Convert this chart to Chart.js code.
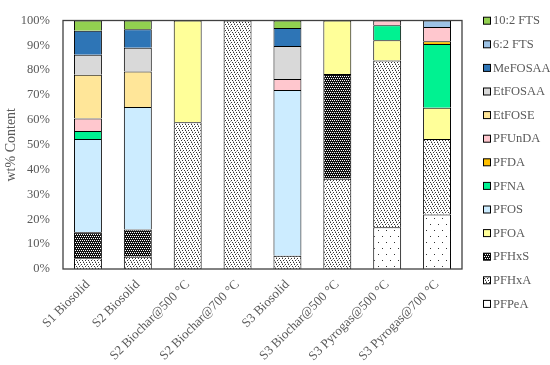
<!DOCTYPE html>
<html>
<head>
<meta charset="utf-8">
<script src="https://cdn.jsdelivr.net/npm/chart.js@4.4.1/dist/chart.umd.min.js"></script>
<style>
  html, body { margin: 0; padding: 0; background: #fff; }
  canvas { display: block; }
</style>
</head>
<body>
<canvas id="pfasChart" width="550" height="365"></canvas>
<script>
// Samples along the x axis
const samples = ['S1 Biosolid', 'S2 Biosolid', 'S2 Biochar@500 °C', 'S2 Biochar@700 °C',
    'S3 Biosolid', 'S3 Biochar@500 °C', 'S3 Pyrogas@500 °C', 'S3 Pyrogas@700 °C'];

// wt% of each compound per sample (bottom of the stack first)
const pfpea   = [0, 0, 0, 0, 0, 0, 16.8, 21.9];
const pfhxa   = [4.3, 4.9, 59.1, 100, 5.3, 36.3, 67.1, 30.4];
const pfhxs   = [10.5, 11.0, 0, 0, 0, 42.2, 0, 0];
const pfoa    = [0, 0, 40.9, 0, 0, 21.5, 8.2, 12.6];
const pfos    = [37.5, 49.3, 0, 0, 66.7, 0, 0, 0];
const pfna    = [3.2, 0, 0, 0, 0, 0, 6.0, 25.6];
const pfda    = [0, 0, 0, 0, 0, 0, 0, 1.2];
const pfunda  = [5.1, 0, 0, 0, 4.5, 0, 1.9, 5.7];
const etfose  = [17.6, 14.3, 0, 0, 0, 0, 0, 0];
const etfosaa = [8.0, 9.5, 0, 0, 13.2, 0, 0, 0];
const mefosaa = [9.7, 7.5, 0, 0, 7.3, 0, 0, 0];
const fts62   = [0, 0, 0, 0, 0, 0, 0, 2.6];
const fts102  = [4.1, 3.5, 0, 0, 3.0, 0, 0, 0];

const yTicks = [0, 10, 20, 30, 40, 50, 60, 70, 80, 90, 100];

const FONT = "'Liberation Serif', 'DejaVu Serif', serif";
const TEXT = '#595959';

// small tiled patterns for the hatched compounds
function makePattern(w, h, bg, dots) {
    const c = document.createElement('canvas');
    c.width = w; c.height = h;
    const g = c.getContext('2d');
    g.fillStyle = bg;
    g.fillRect(0, 0, w, h);
    dots.forEach(d => {
        g.fillStyle = d[4];
        g.fillRect(d[0], d[1], d[2], d[3]);
    });
    return g.createPattern(c, 'repeat');
}

const ctx = document.getElementById('pfasChart').getContext('2d');
const sparseDots = makePattern(8, 12, '#ffffff', [[2, 2, 1, 1, '#333'], [6, 8, 1, 1, '#333']]);
const denseDots  = makePattern(6, 6, '#ffffff', [
    [0, 0, 1, 1, '#333'], [3, 0, 1, 1, '#333'],
    [1, 2, 1, 1, '#333'], [4, 2, 1, 1, '#333'],
    [2, 4, 1, 1, '#333'], [5, 4, 1, 1, '#333'],
    [2, 1, 1, 1, '#aaa'], [5, 3, 1, 1, '#aaa'], [0, 5, 1, 1, '#aaa']]);
const darkCheck  = makePattern(4, 4, '#111111', [[0, 0, 1, 1, '#fff'], [2, 0, 1, 1, '#fff'],
    [1, 2, 1, 1, '#fff'], [3, 2, 1, 1, '#fff']]);

function series(label, data, fill) {
    return {
        label: label,
        data: data,
        backgroundColor: fill,
        borderColor: '#000000',
        borderWidth: 1
    };
}

const datasets = [
    series('PFPeA', pfpea, sparseDots),
    series('PFHxA', pfhxa, denseDots),
    series('PFHxS', pfhxs, darkCheck),
    series('PFOA', pfoa, '#FFFF99'),
    series('PFOS', pfos, '#CCECFF'),
    series('PFNA', pfna, '#00F291'),
    series('PFDA', pfda, '#FFC000'),
    series('PFUnDA', pfunda, '#FFC7CE'),
    series('EtFOSE', etfose, '#FFE699'),
    series('EtFOSAA', etfosaa, '#D9D9D9'),
    series('MeFOSAA', mefosaa, '#2E75B6'),
    series('6:2 FTS', fts62, '#9DC3E6'),
    series('10:2 FTS', fts102, '#92D050')
];

// frame round the plot area
const frame = {
    id: 'frame',
    afterDatasetsDraw(chart) {
        const a = chart.chartArea;
        const c = chart.ctx;
        c.save();
        c.strokeStyle = '#404040';
        c.lineWidth = 1.3;
        c.strokeRect(a.left, a.top, a.right - a.left, a.bottom - a.top);
        c.restore();
    }
};

// legend at the right, top item is the last dataset
const sideLegend = {
    id: 'sideLegend',
    afterDraw(chart) {
        const c = chart.ctx;
        const sets = chart.data.datasets;
        c.save();
        c.font = '12.5px ' + FONT;
        c.textBaseline = 'middle';
        c.textAlign = 'left';
        for (let k = 0; k < sets.length; k++) {
            const ds = sets[sets.length - 1 - k];
            const y = 20.7 + k * 23.6;
            c.fillStyle = ds.backgroundColor;
            c.fillRect(483.5, y - 3.5, 7, 7);
            c.strokeStyle = '#000';
            c.lineWidth = 1;
            c.strokeRect(483.5, y - 3.5, 7, 7);
            c.fillStyle = TEXT;
            c.fillText(ds.label, 493, y + 0.5);
        }
        c.restore();
    }
};

new Chart(ctx, {
    type: 'bar',
    data: {
        labels: samples,
        datasets: datasets
    },
    options: {
        responsive: false,
        animation: false,
        layout: {
            padding: { top: 11, right: 88, left: 0, bottom: 0 }
        },
        datasets: {
            bar: {
                categoryPercentage: 1,
                barPercentage: 0.56
            }
        },
        plugins: {
            legend: { display: false },
            tooltip: { enabled: false }
        },
        scales: {
            x: {
                stacked: true,
                grid: { display: false, drawTicks: false },
                border: { display: false },
                ticks: {
                    color: TEXT,
                    font: { family: FONT, size: 13 },
                    minRotation: 45,
                    maxRotation: 45,
                    padding: 8
                },
                afterFit: function(scale) { scale.height = 96; }
            },
            y: {
                stacked: true,
                min: 0,
                max: 100,
                grid: { display: false, drawTicks: false },
                border: { display: false },
                afterBuildTicks: function(scale) {
                    scale.ticks = yTicks.map(v => ({ value: v }));
                },
                ticks: {
                    color: TEXT,
                    font: { family: FONT, size: 12.5 },
                    padding: 13,
                    callback: function(value) { return value + '%'; }
                },
                title: {
                    display: true,
                    text: 'wt% Content',
                    color: TEXT,
                    font: { family: FONT, size: 14 },
                    padding: { top: 3, bottom: 0 }
                },
                afterFit: function(scale) { scale.width = 63; }
            }
        }
    },
    plugins: [frame, sideLegend]
});
</script>
</body>
</html>
